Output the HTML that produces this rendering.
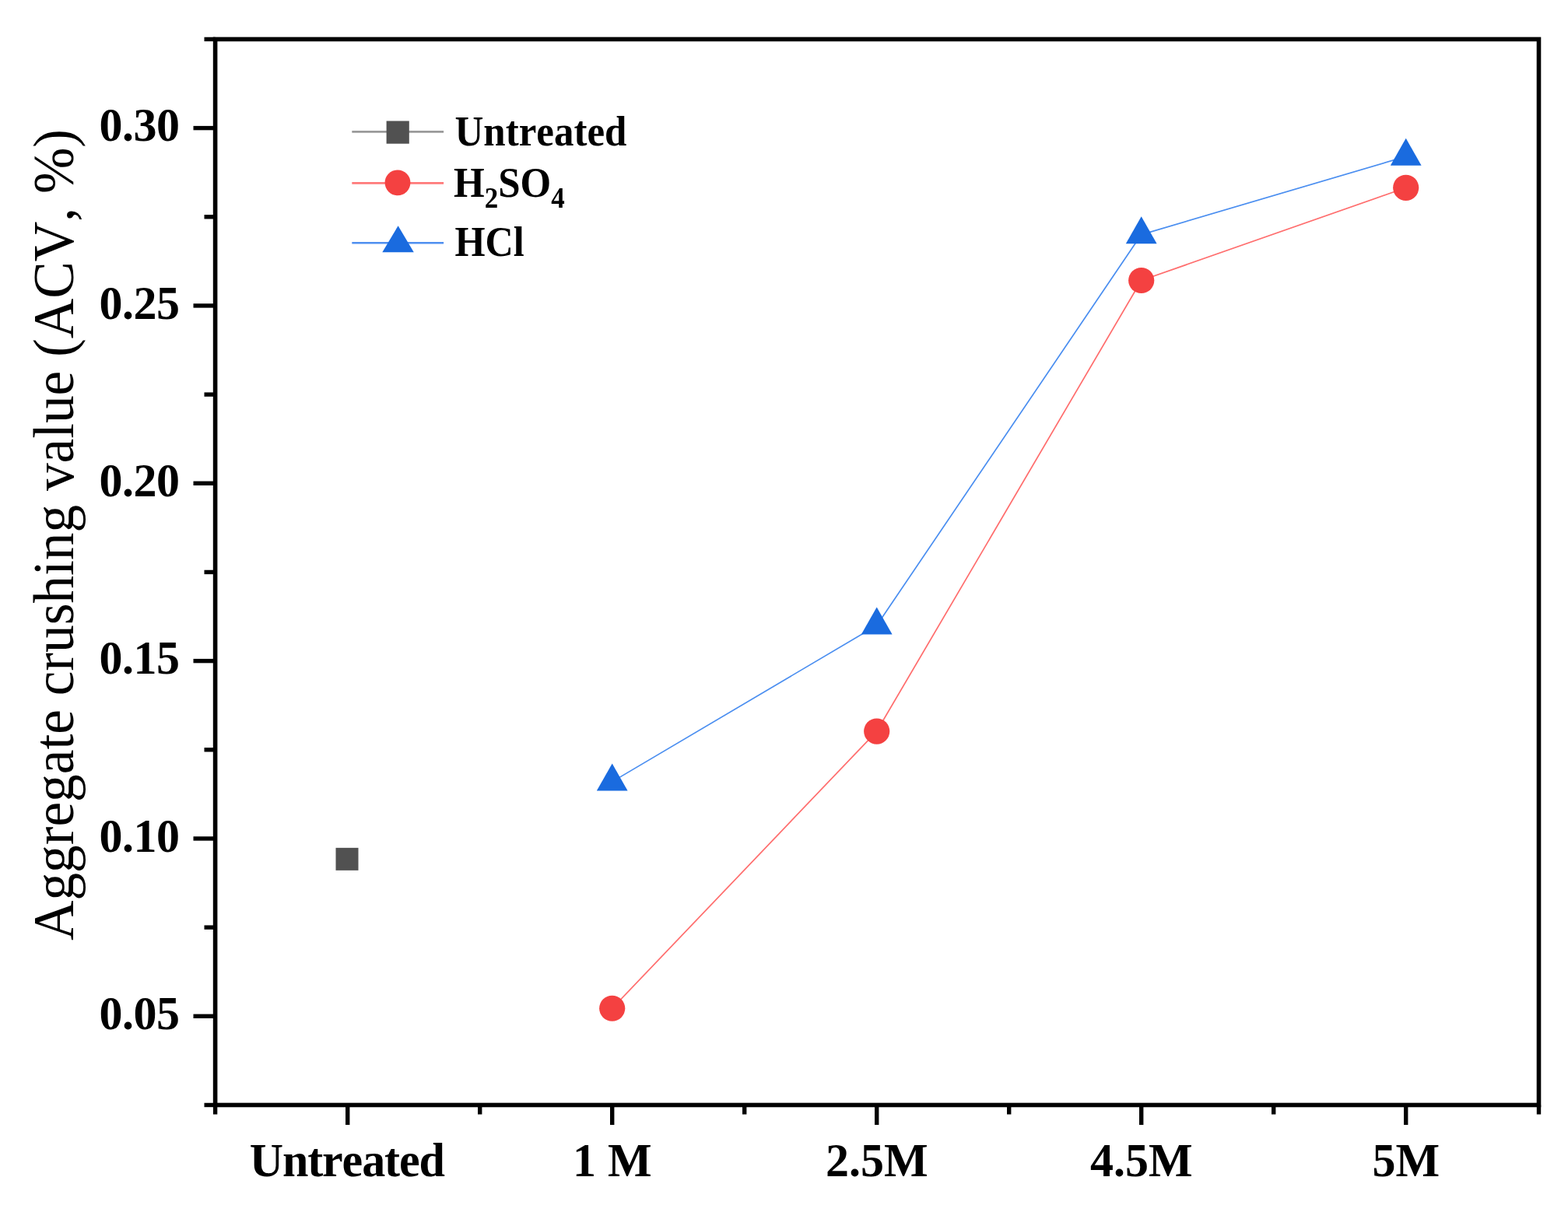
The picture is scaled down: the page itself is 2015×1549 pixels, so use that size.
<!DOCTYPE html>
<html><head><meta charset="utf-8"><title>Aggregate crushing value</title>
<style>
html,body{margin:0;padding:0;background:#fff;}
text{font-kerning:none;}
svg{display:block;}
.tl{font-family:"Liberation Serif","Times New Roman",serif;font-weight:bold;font-size:60px;fill:#000;}
.lg{font-family:"Liberation Serif","Times New Roman",serif;font-weight:bold;font-size:51px;fill:#000;}
.yl{font-family:"Liberation Serif","Times New Roman",serif;font-weight:normal;font-size:72px;fill:#000;}
</style></head>
<body>
<svg width="2015" height="1549" viewBox="0 0 2015 1549">
<rect width="2015" height="1549" fill="#fff"/>
<rect x="276.6" y="50.43" width="1700.90" height="1370.04" fill="none" stroke="#000" stroke-width="5.6" stroke-linejoin="miter"/>
<line x1="262.5" y1="1420.47" x2="276.6" y2="1420.47" stroke="#000" stroke-width="5.4"/>
<line x1="248.5" y1="1306.30" x2="276.6" y2="1306.30" stroke="#000" stroke-width="5.4"/>
<line x1="262.5" y1="1192.13" x2="276.6" y2="1192.13" stroke="#000" stroke-width="5.4"/>
<line x1="248.5" y1="1077.96" x2="276.6" y2="1077.96" stroke="#000" stroke-width="5.4"/>
<line x1="262.5" y1="963.79" x2="276.6" y2="963.79" stroke="#000" stroke-width="5.4"/>
<line x1="248.5" y1="849.62" x2="276.6" y2="849.62" stroke="#000" stroke-width="5.4"/>
<line x1="262.5" y1="735.45" x2="276.6" y2="735.45" stroke="#000" stroke-width="5.4"/>
<line x1="248.5" y1="621.28" x2="276.6" y2="621.28" stroke="#000" stroke-width="5.4"/>
<line x1="262.5" y1="507.11" x2="276.6" y2="507.11" stroke="#000" stroke-width="5.4"/>
<line x1="248.5" y1="392.94" x2="276.6" y2="392.94" stroke="#000" stroke-width="5.4"/>
<line x1="262.5" y1="278.77" x2="276.6" y2="278.77" stroke="#000" stroke-width="5.4"/>
<line x1="248.5" y1="164.60" x2="276.6" y2="164.60" stroke="#000" stroke-width="5.4"/>
<line x1="262.5" y1="50.43" x2="276.6" y2="50.43" stroke="#000" stroke-width="5.4"/>
<line x1="276.60" y1="1420.47" x2="276.60" y2="1432.5" stroke="#000" stroke-width="5.4"/>
<line x1="446.70" y1="1420.47" x2="446.70" y2="1446" stroke="#000" stroke-width="5.4"/>
<line x1="616.70" y1="1420.47" x2="616.70" y2="1432.5" stroke="#000" stroke-width="5.4"/>
<line x1="786.70" y1="1420.47" x2="786.70" y2="1446" stroke="#000" stroke-width="5.4"/>
<line x1="956.70" y1="1420.47" x2="956.70" y2="1432.5" stroke="#000" stroke-width="5.4"/>
<line x1="1126.70" y1="1420.47" x2="1126.70" y2="1446" stroke="#000" stroke-width="5.4"/>
<line x1="1296.70" y1="1420.47" x2="1296.70" y2="1432.5" stroke="#000" stroke-width="5.4"/>
<line x1="1466.70" y1="1420.47" x2="1466.70" y2="1446" stroke="#000" stroke-width="5.4"/>
<line x1="1636.70" y1="1420.47" x2="1636.70" y2="1432.5" stroke="#000" stroke-width="5.4"/>
<line x1="1806.70" y1="1420.47" x2="1806.70" y2="1446" stroke="#000" stroke-width="5.4"/>
<line x1="1977.50" y1="1420.47" x2="1977.50" y2="1432.5" stroke="#000" stroke-width="5.4"/>
<text transform="translate(231,181.3) scale(1,1.028)" class="tl" text-anchor="end" textLength="103.6" lengthAdjust="spacing">0.30</text>
<text transform="translate(231,409.6) scale(1,1.028)" class="tl" text-anchor="end" textLength="103.6" lengthAdjust="spacing">0.25</text>
<text transform="translate(231,638.0) scale(1,1.028)" class="tl" text-anchor="end" textLength="103.6" lengthAdjust="spacing">0.20</text>
<text transform="translate(231,866.3) scale(1,1.028)" class="tl" text-anchor="end" textLength="103.6" lengthAdjust="spacing">0.15</text>
<text transform="translate(231,1094.7) scale(1,1.028)" class="tl" text-anchor="end" textLength="103.6" lengthAdjust="spacing">0.10</text>
<text transform="translate(231,1323.0) scale(1,1.028)" class="tl" text-anchor="end" textLength="103.6" lengthAdjust="spacing">0.05</text>
<text transform="translate(445.7,1511.5) scale(1,1.028)" class="tl" text-anchor="middle" letter-spacing="-1.1">Untreated</text>
<text transform="translate(786.7,1511.5) scale(1,1.028)" class="tl" text-anchor="middle">1 M</text>
<text transform="translate(1126.7,1511.5) scale(1,1.028)" class="tl" text-anchor="middle">2.5M</text>
<text transform="translate(1466.7,1511.5) scale(1,1.028)" class="tl" text-anchor="middle">4.5M</text>
<text transform="translate(1806.7,1511.5) scale(1,1.028)" class="tl" text-anchor="middle">5M</text>
<text transform="translate(93.8,1209) rotate(-90) scale(1,1.017)" class="yl" textLength="1043" lengthAdjust="spacingAndGlyphs">Aggregate crushing value (ACV, %)</text>
<polyline points="786.70,1296.25 1126.70,940.04 1466.70,360.52 1806.70,241.32" fill="none" stroke="#FF6E6E" stroke-width="1.7" stroke-linejoin="round"/>
<polyline points="786.70,1004.89 1126.70,803.95 1466.70,301.60 1806.70,201.13" fill="none" stroke="#4A8EF0" stroke-width="1.7" stroke-linejoin="round"/>
<circle cx="786.70" cy="1296.25" r="16.6" fill="#F44141"/>
<circle cx="1126.70" cy="940.04" r="16.6" fill="#F44141"/>
<circle cx="1466.70" cy="360.52" r="16.6" fill="#F44141"/>
<circle cx="1806.70" cy="241.32" r="16.6" fill="#F44141"/>
<polygon points="786.70,981.49 806.60,1016.49 766.80,1016.49" fill="#1A6BDF"/>
<polygon points="1126.70,780.55 1146.60,815.55 1106.80,815.55" fill="#1A6BDF"/>
<polygon points="1466.70,278.20 1486.60,313.20 1446.80,313.20" fill="#1A6BDF"/>
<polygon points="1806.70,177.73 1826.60,212.73 1786.80,212.73" fill="#1A6BDF"/>
<rect x="431.50" y="1089.86" width="29" height="29" fill="#515151"/>
<line x1="452.3" y1="169.4" x2="570.1" y2="169.4" stroke="#9A9A9A" stroke-width="2.7"/>
<rect x="496.6" y="155.5" width="29.2" height="29.2" fill="#515151"/>
<text transform="translate(584.5,186.6) scale(1,1.075)" class="lg">Untreated</text>
<line x1="452.3" y1="235.4" x2="570.1" y2="235.4" stroke="#FF7A7A" stroke-width="2.7"/>
<circle cx="511" cy="234.8" r="16.4" fill="#F44141"/>
<text transform="translate(583,252.7) scale(1,1.075)" class="lg">H<tspan font-size="35" dy="12.9">2</tspan><tspan dy="-12.9">SO</tspan><tspan font-size="35" dy="12.9">4</tspan></text>
<line x1="452.3" y1="312.3" x2="570.1" y2="312.3" stroke="#4F8FF0" stroke-width="2.4"/>
<polygon points="511.6,290.3 531.8,324.2 491.3,324.2" fill="#1A6BDF"/>
<text transform="translate(584.5,329) scale(0.985,1.075)" class="lg">HCl</text>
</svg>
</body></html>
